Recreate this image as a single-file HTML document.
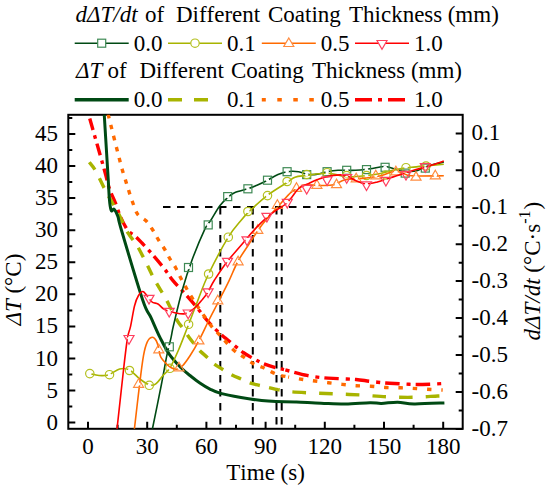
<!DOCTYPE html><html><head><meta charset="utf-8"><style>html,body{margin:0;padding:0;background:#fff;}svg{display:block;}text{font-family:"Liberation Serif",serif;fill:#000;white-space:pre;font-kerning:none;font-variant-ligatures:none;}</style></head><body>
<svg width="550" height="489" viewBox="0 0 550 489">
<defs><clipPath id="pc"><rect x="68.3" y="114.8" width="394.4" height="314.0"/></clipPath></defs>
<text x="75.5" y="21.7" font-size="23" font-style="italic">d&#916;T/dt</text>
<text x="145.1" y="21.7" font-size="23">of</text>
<text x="175.9" y="21.7" font-size="23">Different</text>
<text x="268.0" y="21.7" font-size="23">Coating</text>
<text x="349.0" y="21.7" font-size="23">Thickness</text>
<text x="447.7" y="21.7" font-size="23">(mm)</text>
<text x="76.1" y="77.7" font-size="23" font-style="italic">&#916;T</text>
<text x="107.5" y="77.7" font-size="23">of</text>
<text x="139.5" y="77.7" font-size="23">Different</text>
<text x="231.0" y="77.7" font-size="23">Coating</text>
<text x="312.0" y="77.7" font-size="23">Thickness</text>
<text x="410.9" y="77.7" font-size="23">(mm)</text>
<line x1="74.7" y1="43.2" x2="128.7" y2="43.2" stroke="#004a14" stroke-width="1.6"/>
<rect x="97.7" y="39.2" width="8" height="8" fill="#fff" stroke="#3f8a55" stroke-width="1.2"/>
<text x="133.7" y="51" font-size="23">0.0</text>
<line x1="74.7" y1="99.7" x2="128.7" y2="99.7" stroke="#004a14" stroke-width="3.4" />
<text x="133.7" y="107" font-size="23">0.0</text>
<line x1="168.0" y1="43.2" x2="222.0" y2="43.2" stroke="#a8b400" stroke-width="1.6"/>
<circle cx="195.0" cy="43.2" r="4.2" fill="#fff" stroke="#b4c020" stroke-width="1.2"/>
<text x="227.0" y="51" font-size="23">0.1</text>
<line x1="168.0" y1="99.7" x2="209.0" y2="99.7" stroke="#a8b400" stroke-width="3.4" stroke-dasharray="14 12"/>
<text x="227.0" y="107" font-size="23">0.1</text>
<line x1="261.8" y1="43.2" x2="315.8" y2="43.2" stroke="#ff6a00" stroke-width="1.6"/>
<path d="M288.8,38.0 L293.8,46.5 L283.8,46.5 Z" fill="#fff" stroke="#ff8c40" stroke-width="1.2"/>
<text x="320.8" y="51" font-size="23">0.5</text>
<line x1="261.8" y1="99.7" x2="315.8" y2="99.7" stroke="#ff6a00" stroke-width="3.4" stroke-dasharray="4.5 11.5" stroke-dashoffset="0.5"/>
<text x="320.8" y="107" font-size="23">0.5</text>
<line x1="355.0" y1="43.2" x2="409.0" y2="43.2" stroke="#ff0000" stroke-width="1.6"/>
<path d="M377.0,40.5 L387.0,40.5 L382.0,49.2 Z" fill="#fff" stroke="#ff4060" stroke-width="1.2"/>
<text x="414.0" y="51" font-size="23">1.0</text>
<line x1="355.0" y1="99.7" x2="409.0" y2="99.7" stroke="#ff0000" stroke-width="3.4" stroke-dasharray="17 6 4 6"/>
<text x="414.0" y="107" font-size="23">1.0</text>
<rect x="68.3" y="114.8" width="394.4" height="314.0" fill="none" stroke="#000" stroke-width="2"/>
<text x="88.0" y="454" font-size="23" text-anchor="middle">0</text>
<text x="147.2" y="454" font-size="23" text-anchor="middle">30</text>
<text x="206.4" y="454" font-size="23" text-anchor="middle">60</text>
<text x="265.6" y="454" font-size="23" text-anchor="middle">90</text>
<text x="324.8" y="454" font-size="23" text-anchor="middle">120</text>
<text x="384.0" y="454" font-size="23" text-anchor="middle">150</text>
<text x="443.2" y="454" font-size="23" text-anchor="middle">180</text>
<text x="58" y="429.6" font-size="23" text-anchor="end">0</text>
<text x="58" y="397.5" font-size="23" text-anchor="end">5</text>
<text x="58" y="365.5" font-size="23" text-anchor="end">10</text>
<text x="58" y="333.4" font-size="23" text-anchor="end">15</text>
<text x="58" y="301.3" font-size="23" text-anchor="end">20</text>
<text x="58" y="269.3" font-size="23" text-anchor="end">25</text>
<text x="58" y="237.2" font-size="23" text-anchor="end">30</text>
<text x="58" y="205.1" font-size="23" text-anchor="end">35</text>
<text x="58" y="173.1" font-size="23" text-anchor="end">40</text>
<text x="58" y="141.0" font-size="23" text-anchor="end">45</text>
<text x="471.5" y="140.4" font-size="23">0.1</text>
<text x="471.5" y="177.3" font-size="23">0.0</text>
<text x="471.5" y="214.2" font-size="23">-0.1</text>
<text x="471.5" y="251.2" font-size="23">-0.2</text>
<text x="471.5" y="288.1" font-size="23">-0.3</text>
<text x="471.5" y="325.1" font-size="23">-0.4</text>
<text x="471.5" y="362.0" font-size="23">-0.5</text>
<text x="471.5" y="398.9" font-size="23">-0.6</text>
<text x="471.5" y="435.9" font-size="23">-0.7</text>
<path d="M88.0,428.8V421.8 M147.2,428.8V421.8 M206.4,428.8V421.8 M265.6,428.8V421.8 M324.8,428.8V421.8 M384.0,428.8V421.8 M443.2,428.8V421.8 M117.6,428.8V424.8 M176.8,428.8V424.8 M236.0,428.8V424.8 M295.2,428.8V424.8 M354.4,428.8V424.8 M413.6,428.8V424.8 M68.3,422.6H75.3 M68.3,390.5H75.3 M68.3,358.5H75.3 M68.3,326.4H75.3 M68.3,294.3H75.3 M68.3,262.3H75.3 M68.3,230.2H75.3 M68.3,198.1H75.3 M68.3,166.1H75.3 M68.3,134.0H75.3 M68.3,406.6H72.3 M68.3,374.5H72.3 M68.3,342.4H72.3 M68.3,310.4H72.3 M68.3,278.3H72.3 M68.3,246.2H72.3 M68.3,214.2H72.3 M68.3,182.1H72.3 M68.3,150.0H72.3 M68.3,118.0H72.3 M462.7,133.4H455.7 M462.7,170.3H455.7 M462.7,207.2H455.7 M462.7,244.2H455.7 M462.7,281.1H455.7 M462.7,318.1H455.7 M462.7,355.0H455.7 M462.7,391.9H455.7 M462.7,428.9H455.7 M462.7,151.8H458.7 M462.7,188.8H458.7 M462.7,225.7H458.7 M462.7,262.7H458.7 M462.7,299.6H458.7 M462.7,336.5H458.7 M462.7,373.5H458.7 M462.7,410.4H458.7" stroke="#000" stroke-width="2" fill="none"/>
<text x="226.3" y="480" font-size="23">Time (s)</text>
<text transform="translate(21,325.6) rotate(-90)" font-size="23"><tspan font-style="italic">&#916;T</tspan> (&#176;C)</text>
<text transform="translate(540.2,340.5) rotate(-90)" font-size="23"><tspan font-style="italic">d&#916;T/dt</tspan> (&#176;C&#183;s<tspan font-size="16" dy="-10">-1</tspan><tspan dy="10" dx="1">)</tspan></text>
<g clip-path="url(#pc)">
<path d="M163,207 H463 M220.3,207 V429 M252.8,207 V429 M276.5,207 V429 M281.7,207 V429" stroke="#000" stroke-width="2" stroke-dasharray="7.5 6.5" fill="none"/>
<path d="M87.50,110.00 C87.83,111.28 86.68,107.70 89.50,117.70 C92.32,127.70 101.10,158.22 104.40,170.00 C107.70,181.78 107.45,182.90 109.30,188.40 C111.15,193.90 113.65,198.30 115.50,203.00 C117.35,207.70 118.65,212.48 120.40,216.60 C122.15,220.72 124.47,225.08 126.00,227.70 C127.53,230.32 128.18,231.00 129.60,232.30 C131.02,233.60 132.43,233.72 134.50,235.50 C136.57,237.28 139.13,239.98 142.00,243.00 C144.87,246.02 148.03,249.38 151.70,253.60 C155.37,257.82 160.45,263.80 164.00,268.30 C167.55,272.80 169.92,276.82 173.00,280.60 C176.08,284.38 178.67,286.70 182.50,291.00 C186.33,295.30 191.72,301.28 196.00,306.40 C200.28,311.52 204.12,317.10 208.20,321.70 C212.28,326.30 217.43,331.12 220.50,334.00 C223.57,336.88 224.52,337.28 226.60,339.00 C228.68,340.72 230.23,342.05 233.00,344.30 C235.77,346.55 239.80,350.12 243.20,352.50 C246.60,354.88 250.00,356.73 253.40,358.60 C256.80,360.47 259.85,362.17 263.60,363.70 C267.35,365.23 272.50,366.82 275.90,367.80 C279.30,368.78 278.82,368.33 284.00,369.60" stroke="#ff0000" stroke-width="3.4" fill="none" stroke-dasharray="12 5.5 3.5 4.9" stroke-dashoffset="16.92"/>
<path d="M284.00,369.60 C289.18,370.87 300.43,374.03 307.00,375.40 C313.57,376.77 318.23,377.27 323.40,377.80 C328.57,378.33 332.57,378.32 338.00,378.60 C343.43,378.88 350.67,379.05 356.00,379.50 C361.33,379.95 365.08,380.72 370.00,381.30 C374.92,381.88 380.60,382.60 385.50,383.00 C390.40,383.40 394.48,383.45 399.40,383.70 C404.32,383.95 409.82,384.42 415.00,384.50 C420.18,384.58 425.67,384.37 430.50,384.20 C435.33,384.03 441.75,383.62 444.00,383.50" stroke="#ff0000" stroke-width="3.4" fill="none" stroke-dasharray="14.5 7 4 5.05" stroke-dashoffset="19.89"/>
<path d="M107.00,108.00 C107.25,109.30 106.20,106.42 108.50,115.80 C110.80,125.18 118.10,154.03 120.80,164.30 C123.50,174.57 123.43,173.18 124.70,177.40 C125.97,181.62 127.07,185.42 128.40,189.60 C129.73,193.78 131.17,198.40 132.70,202.50 C134.23,206.60 135.38,211.15 137.60,214.20 C139.82,217.25 143.50,218.20 146.00,220.80 C148.50,223.40 150.55,226.67 152.60,229.80 C154.65,232.93 156.27,236.32 158.30,239.60 C160.33,242.88 162.90,246.35 164.80,249.50 C166.70,252.65 167.92,255.50 169.70,258.50 C171.48,261.50 173.72,264.37 175.50,267.50 C177.28,270.63 178.73,274.10 180.40,277.30 C182.07,280.50 183.62,283.38 185.50,286.70 C187.38,290.02 189.55,293.72 191.70,297.20 C193.85,300.68 195.13,302.80 198.40,307.60 C201.67,312.40 207.82,321.50 211.30,326.00 C214.78,330.50 215.68,330.70 219.30,334.60 C222.92,338.50 229.05,345.73 233.00,349.40 C236.95,353.07 239.60,354.22 243.00,356.60 C246.40,358.98 249.97,361.83 253.40,363.70 C256.83,365.57 259.85,366.08 263.60,367.80 C267.35,369.52 271.80,372.47 275.90,374.00 C280.00,375.53 283.68,376.08 288.20,377.00" stroke="#ff6a00" stroke-width="3.4" fill="none" stroke-dasharray="4.5 6.75" stroke-dashoffset="5.03"/>
<path d="M288.20,377.00 C292.72,377.92 298.53,378.83 303.00,379.50 C307.47,380.17 310.78,380.47 315.00,381.00 C319.22,381.53 323.77,382.13 328.30,382.70 C332.83,383.27 337.58,383.90 342.20,384.40 C346.82,384.90 351.25,385.40 356.00,385.70 C360.75,386.00 365.78,385.90 370.70,386.20 C375.62,386.50 380.45,387.23 385.50,387.50 C390.55,387.77 395.82,387.62 401.00,387.80 C406.18,387.98 411.55,388.32 416.60,388.60 C421.65,388.88 426.95,389.27 431.30,389.50 C435.65,389.73 440.80,389.92 442.70,390.00" stroke="#ff6a00" stroke-width="3.4" fill="none" stroke-dasharray="4.5 9.8" stroke-dashoffset="3.56"/>
<path d="M89.30,162.30 C90.37,163.75 93.08,166.45 95.70,171.00 C98.32,175.55 102.02,183.93 105.00,189.60 C107.98,195.27 111.35,201.00 113.60,205.00 C115.85,209.00 116.10,208.93 118.50,213.60 C120.90,218.27 124.92,227.70 128.00,233.00 C131.08,238.30 133.87,240.20 137.00,245.40 C140.13,250.60 143.80,258.33 146.80,264.20 C149.80,270.07 152.00,275.13 155.00,280.60 C158.00,286.07 162.08,292.22 164.80,297.00 C167.52,301.78 169.15,305.25 171.30,309.30 C173.45,313.35 175.70,318.07 177.70,321.30 C179.70,324.53 181.45,326.08 183.30,328.70 C185.15,331.32 186.82,334.25 188.80,337.00 C190.78,339.75 193.37,342.92 195.20,345.20 C197.03,347.48 197.67,348.57 199.80,350.70 C201.93,352.83 205.70,355.85 208.00,358.00 C210.30,360.15 211.27,361.77 213.60,363.60 C215.93,365.43 218.93,367.10 222.00,369.00 C225.07,370.90 228.83,373.33 232.00,375.00 C235.17,376.67 238.12,377.70 241.00,379.00 C243.88,380.30 246.38,381.77 249.30,382.80 C252.22,383.83 255.43,384.45 258.50,385.20 C261.57,385.95 264.45,386.55 267.70,387.30 C270.95,388.05 274.32,388.97 278.00,389.70" stroke="#a8b400" stroke-width="3.4" fill="none" stroke-dasharray="10.5 9.5" stroke-dashoffset="1.01"/>
<path d="M278.00,389.70 C281.68,390.43 284.42,391.17 289.80,391.70 C295.18,392.23 302.80,392.53 310.30,392.90 C317.80,393.27 326.35,393.55 334.80,393.90 C343.25,394.25 352.42,394.52 361.00,395.00 C369.58,395.48 377.72,396.42 386.30,396.80 C394.88,397.18 403.92,397.43 412.50,397.30 C421.08,397.17 432.55,396.22 437.80,396.00 C443.05,395.78 442.97,396.00 444.00,396.00" stroke="#a8b400" stroke-width="3.4" fill="none" stroke-dasharray="13.5 13.15" stroke-dashoffset="11.83"/>
<path d="M104.2,108.0 C104.2,109.0 103.6,103.0 104.2,114.0 C104.8,125.0 107.1,160.0 107.9,174.0 C108.8,188.0 108.8,192.1 109.3,198.2 C109.8,204.3 110.4,208.7 111.2,210.5 C112.0,212.3 113.1,208.3 114.2,209.3 C115.3,210.3 116.7,213.2 117.9,216.6 C119.1,220.0 117.3,216.1 121.4,230.0 C125.5,243.9 137.8,285.4 142.7,300.0 C147.6,314.6 148.1,311.3 151.0,317.6 C153.9,323.9 157.1,331.8 160.2,337.9 C163.3,344.0 166.0,349.5 169.4,354.4 C172.8,359.3 177.1,363.8 180.5,367.3 C183.9,370.8 186.7,372.9 190.0,375.5 C193.3,378.1 196.8,380.9 200.2,383.2 C203.6,385.5 207.0,387.6 210.4,389.3 C213.8,391.0 215.6,392.0 220.7,393.4 C225.8,394.8 234.2,396.3 241.0,397.5 C247.8,398.7 255.8,399.9 261.6,400.6 C267.4,401.3 270.1,401.4 275.9,401.6 C281.7,401.8 288.9,401.7 296.4,402.0 C303.9,402.3 312.8,402.9 321.0,403.2 C329.2,403.5 337.3,404.1 345.5,404.0 C353.7,403.9 364.0,402.8 370.0,402.7 C376.0,402.6 376.8,403.5 381.4,403.4 C386.0,403.3 392.3,402.1 397.7,402.2 C403.1,402.3 406.2,403.8 414.0,403.9 C421.8,404.0 439.3,403.1 444.4,402.9" stroke="#004a14" stroke-width="3" fill="none"/>
<mask id="mk0" maskUnits="userSpaceOnUse" x="0" y="0" width="550" height="489"><rect x="0" y="0" width="550" height="489" fill="#fff"/><circle cx="169.3" cy="346.8" r="1.8" fill="#000"/><circle cx="188.5" cy="267.5" r="1.8" fill="#000"/><circle cx="208.2" cy="224.9" r="1.8" fill="#000"/><circle cx="227.7" cy="196.6" r="1.8" fill="#000"/><circle cx="247.9" cy="188.8" r="1.8" fill="#000"/><circle cx="267.5" cy="180.2" r="1.8" fill="#000"/><circle cx="287.1" cy="171.7" r="1.8" fill="#000"/><circle cx="306.7" cy="174.6" r="1.8" fill="#000"/><circle cx="327.1" cy="171.7" r="1.8" fill="#000"/><circle cx="346.7" cy="170.3" r="1.8" fill="#000"/><circle cx="366.5" cy="169.6" r="1.8" fill="#000"/><circle cx="385.1" cy="167.3" r="1.8" fill="#000"/><circle cx="405.2" cy="173.1" r="1.8" fill="#000"/><circle cx="425.3" cy="168.1" r="1.8" fill="#000"/></mask>
<path d="M152.4,429.0 C153.9,421.7 158.9,397.2 161.3,385.0 C163.7,372.8 165.2,363.6 166.8,355.7 C168.4,347.8 170.0,342.4 171.1,337.3 C172.2,332.2 171.7,332.9 173.6,325.0 C175.5,317.1 179.2,300.9 182.3,290.0 C185.4,279.1 188.6,269.3 192.3,259.3 C196.0,249.3 201.4,236.4 204.5,229.8 C207.6,223.2 208.4,224.1 211.0,220.0 C213.6,215.9 217.2,209.2 220.0,205.5 C222.8,201.8 225.2,199.7 227.7,197.5 C230.2,195.3 231.6,193.9 235.0,192.5 C238.4,191.1 244.2,190.0 247.9,188.8 C251.6,187.6 253.7,186.6 257.0,185.2 C260.3,183.8 264.0,182.0 267.5,180.2 C271.0,178.4 274.7,175.9 278.0,174.5 C281.3,173.1 283.7,172.2 287.1,171.7 C290.6,171.2 295.4,171.3 298.7,171.7 C302.0,172.1 303.8,173.8 306.7,174.2 C309.6,174.6 312.8,174.8 316.2,174.4 C319.6,174.0 323.5,172.4 327.1,171.7 C330.7,171.0 333.3,170.5 338.0,170.3 C342.7,170.1 350.2,170.6 355.5,170.3 C360.8,170.1 365.1,169.4 370.0,168.8 C374.9,168.2 380.8,166.4 385.1,166.5 C389.4,166.6 392.5,168.5 395.9,169.3 C399.2,170.1 401.8,170.9 405.2,171.2 C408.6,171.5 412.4,171.8 416.0,171.0 C419.6,170.2 422.2,168.0 426.8,166.5 C431.4,165.0 441.0,162.7 443.8,161.9" stroke="#004a14" stroke-width="1.6" fill="none" mask="url(#mk0)"/>
<rect x="165.3" y="342.8" width="8" height="8" fill="none" stroke="#3f8a55" stroke-width="1.2"/>
<rect x="184.5" y="263.5" width="8" height="8" fill="none" stroke="#3f8a55" stroke-width="1.2"/>
<rect x="204.2" y="220.9" width="8" height="8" fill="none" stroke="#3f8a55" stroke-width="1.2"/>
<rect x="223.7" y="192.6" width="8" height="8" fill="none" stroke="#3f8a55" stroke-width="1.2"/>
<rect x="243.9" y="184.8" width="8" height="8" fill="none" stroke="#3f8a55" stroke-width="1.2"/>
<rect x="263.5" y="176.2" width="8" height="8" fill="none" stroke="#3f8a55" stroke-width="1.2"/>
<rect x="283.1" y="167.7" width="8" height="8" fill="none" stroke="#3f8a55" stroke-width="1.2"/>
<rect x="302.7" y="170.6" width="8" height="8" fill="none" stroke="#3f8a55" stroke-width="1.2"/>
<rect x="323.1" y="167.7" width="8" height="8" fill="none" stroke="#3f8a55" stroke-width="1.2"/>
<rect x="342.7" y="166.3" width="8" height="8" fill="none" stroke="#3f8a55" stroke-width="1.2"/>
<rect x="362.5" y="165.6" width="8" height="8" fill="none" stroke="#3f8a55" stroke-width="1.2"/>
<rect x="381.1" y="163.3" width="8" height="8" fill="none" stroke="#3f8a55" stroke-width="1.2"/>
<rect x="401.2" y="169.1" width="8" height="8" fill="none" stroke="#3f8a55" stroke-width="1.2"/>
<rect x="421.3" y="164.1" width="8" height="8" fill="none" stroke="#3f8a55" stroke-width="1.2"/>
<mask id="mk1" maskUnits="userSpaceOnUse" x="0" y="0" width="550" height="489"><rect x="0" y="0" width="550" height="489" fill="#fff"/><circle cx="89.8" cy="373.6" r="1.8" fill="#000"/><circle cx="109.5" cy="374.7" r="1.8" fill="#000"/><circle cx="129.5" cy="370.5" r="1.8" fill="#000"/><circle cx="149.3" cy="385.3" r="1.8" fill="#000"/><circle cx="169.9" cy="368.3" r="1.8" fill="#000"/><circle cx="188.6" cy="324.3" r="1.8" fill="#000"/><circle cx="208.6" cy="274.0" r="1.8" fill="#000"/><circle cx="228.3" cy="237.2" r="1.8" fill="#000"/><circle cx="247.9" cy="211.5" r="1.8" fill="#000"/><circle cx="267.5" cy="195.6" r="1.8" fill="#000"/><circle cx="287.1" cy="181.5" r="1.8" fill="#000"/><circle cx="306.7" cy="174.5" r="1.8" fill="#000"/><circle cx="327.1" cy="172.7" r="1.8" fill="#000"/><circle cx="346.5" cy="175.5" r="1.8" fill="#000"/><circle cx="366.5" cy="175.5" r="1.8" fill="#000"/><circle cx="385.9" cy="175.0" r="1.8" fill="#000"/><circle cx="406.0" cy="167.7" r="1.8" fill="#000"/><circle cx="426.0" cy="166.0" r="1.8" fill="#000"/></mask>
<path d="M89.8,373.6 C91.3,373.9 95.8,375.3 99.0,375.5 C102.2,375.7 105.6,375.8 109.0,374.7 C112.4,373.6 116.2,369.8 119.6,369.0 C123.0,368.2 126.1,368.3 129.5,370.0 C132.9,371.7 136.5,376.5 139.8,379.0 C143.2,381.5 146.9,384.2 149.6,385.0 C152.3,385.8 153.6,385.5 155.8,383.9 C158.0,382.3 160.7,378.1 163.0,375.5 C165.3,372.9 167.3,372.2 169.9,368.0 C172.5,363.8 175.4,357.2 178.5,350.0 C181.6,342.8 185.3,332.8 188.6,324.5 C191.8,316.2 194.7,308.4 198.0,300.0 C201.3,291.6 203.5,284.5 208.6,274.0 C213.7,263.5 222.8,246.2 228.3,237.2 C233.8,228.2 237.8,224.4 241.4,220.0 C245.0,215.6 245.7,214.8 250.0,210.7 C254.3,206.6 261.1,200.1 267.4,195.3 C273.7,190.5 283.2,185.0 287.8,182.0 C292.4,179.0 291.9,178.3 295.0,177.2 C298.1,176.1 301.3,176.1 306.7,175.4 C312.1,174.7 320.2,173.0 327.1,173.2 C334.0,173.4 341.7,176.4 348.0,176.8 C354.3,177.2 359.6,176.4 365.0,175.8 C370.4,175.2 375.4,174.5 380.5,173.5 C385.6,172.5 390.8,170.6 395.9,169.6 C401.0,168.6 406.2,167.9 411.4,167.3 C416.5,166.7 421.4,166.3 426.8,165.8 C432.2,165.3 441.0,164.5 443.8,164.2" stroke="#a8b400" stroke-width="1.6" fill="none" mask="url(#mk1)"/>
<circle cx="89.8" cy="373.6" r="4.2" fill="none" stroke="#b4c020" stroke-width="1.2"/>
<circle cx="109.5" cy="374.7" r="4.2" fill="none" stroke="#b4c020" stroke-width="1.2"/>
<circle cx="129.5" cy="370.5" r="4.2" fill="none" stroke="#b4c020" stroke-width="1.2"/>
<circle cx="149.3" cy="385.3" r="4.2" fill="none" stroke="#b4c020" stroke-width="1.2"/>
<circle cx="169.9" cy="368.3" r="4.2" fill="none" stroke="#b4c020" stroke-width="1.2"/>
<circle cx="188.6" cy="324.3" r="4.2" fill="none" stroke="#b4c020" stroke-width="1.2"/>
<circle cx="208.6" cy="274.0" r="4.2" fill="none" stroke="#b4c020" stroke-width="1.2"/>
<circle cx="228.3" cy="237.2" r="4.2" fill="none" stroke="#b4c020" stroke-width="1.2"/>
<circle cx="247.9" cy="211.5" r="4.2" fill="none" stroke="#b4c020" stroke-width="1.2"/>
<circle cx="267.5" cy="195.6" r="4.2" fill="none" stroke="#b4c020" stroke-width="1.2"/>
<circle cx="287.1" cy="181.5" r="4.2" fill="none" stroke="#b4c020" stroke-width="1.2"/>
<circle cx="306.7" cy="174.5" r="4.2" fill="none" stroke="#b4c020" stroke-width="1.2"/>
<circle cx="327.1" cy="172.7" r="4.2" fill="none" stroke="#b4c020" stroke-width="1.2"/>
<circle cx="346.5" cy="175.5" r="4.2" fill="none" stroke="#b4c020" stroke-width="1.2"/>
<circle cx="366.5" cy="175.5" r="4.2" fill="none" stroke="#b4c020" stroke-width="1.2"/>
<circle cx="385.9" cy="175.0" r="4.2" fill="none" stroke="#b4c020" stroke-width="1.2"/>
<circle cx="406.0" cy="167.7" r="4.2" fill="none" stroke="#b4c020" stroke-width="1.2"/>
<circle cx="426.0" cy="166.0" r="4.2" fill="none" stroke="#b4c020" stroke-width="1.2"/>
<mask id="mk2" maskUnits="userSpaceOnUse" x="0" y="0" width="550" height="489"><rect x="0" y="0" width="550" height="489" fill="#fff"/><circle cx="138.6" cy="384.0" r="1.8" fill="#000"/><circle cx="158.8" cy="349.5" r="1.8" fill="#000"/><circle cx="179.0" cy="367.5" r="1.8" fill="#000"/><circle cx="198.9" cy="340.6" r="1.8" fill="#000"/><circle cx="217.8" cy="300.5" r="1.8" fill="#000"/><circle cx="238.1" cy="261.5" r="1.8" fill="#000"/><circle cx="257.8" cy="230.0" r="1.8" fill="#000"/><circle cx="277.4" cy="205.0" r="1.8" fill="#000"/><circle cx="296.5" cy="188.0" r="1.8" fill="#000"/><circle cx="316.9" cy="185.0" r="1.8" fill="#000"/><circle cx="336.5" cy="184.3" r="1.8" fill="#000"/><circle cx="356.2" cy="178.5" r="1.8" fill="#000"/><circle cx="375.8" cy="175.5" r="1.8" fill="#000"/><circle cx="395.9" cy="171.5" r="1.8" fill="#000"/><circle cx="416.0" cy="176.8" r="1.8" fill="#000"/><circle cx="435.3" cy="175.5" r="1.8" fill="#000"/></mask>
<path d="M134.4,429.0 C135.3,421.3 138.3,394.9 139.8,382.7 C141.3,370.5 142.3,362.4 143.5,355.7 C144.7,348.9 145.8,345.3 147.2,342.2 C148.6,339.1 150.6,337.5 152.1,337.3 C153.6,337.1 155.3,339.1 156.4,341.0 C157.5,342.9 158.1,346.4 158.8,349.0 C159.5,351.6 159.4,354.3 160.7,356.9 C162.0,359.4 165.0,362.4 166.8,364.3 C168.6,366.2 170.1,367.2 171.7,368.0 C173.3,368.8 174.8,369.6 176.6,369.2 C178.4,368.8 180.6,367.8 182.8,365.5 C185.0,363.2 187.3,359.8 190.0,355.7 C192.7,351.6 195.7,346.6 198.9,340.6 C202.1,334.7 205.6,326.8 209.0,320.0 C212.4,313.2 216.0,306.6 219.3,300.0 C222.7,293.4 226.0,287.1 229.1,280.6 C232.2,274.1 234.8,267.0 238.1,261.0 C241.4,255.0 245.1,250.0 248.7,244.5 C252.3,239.0 256.1,232.9 259.7,228.0 C263.3,223.1 266.9,218.9 270.4,214.8 C273.9,210.7 277.3,207.2 280.7,203.5 C284.1,199.8 287.8,195.0 291.0,192.3 C294.2,189.6 297.8,188.4 300.0,187.2 C302.2,185.9 300.9,185.1 304.5,184.8 C308.1,184.5 316.4,185.5 321.3,185.5 C326.2,185.5 329.6,185.8 333.6,184.8 C337.6,183.8 340.1,180.8 345.3,179.7 C350.5,178.6 359.1,178.8 365.0,178.1 C370.9,177.4 375.6,177.0 380.5,175.8 C385.4,174.7 390.5,171.6 394.4,171.2 C398.2,170.8 400.8,172.7 403.6,173.5 C406.4,174.3 404.7,175.4 411.4,175.8 C418.1,176.2 438.4,175.8 443.8,175.8" stroke="#ff6a00" stroke-width="1.6" fill="none" mask="url(#mk2)"/>
<path d="M138.6,378.8 L143.6,387.3 L133.6,387.3 Z" fill="none" stroke="#ff8c40" stroke-width="1.2"/>
<path d="M158.8,344.3 L163.8,352.8 L153.8,352.8 Z" fill="none" stroke="#ff8c40" stroke-width="1.2"/>
<path d="M179.0,362.3 L184.0,370.8 L174.0,370.8 Z" fill="none" stroke="#ff8c40" stroke-width="1.2"/>
<path d="M198.9,335.4 L203.9,343.9 L193.9,343.9 Z" fill="none" stroke="#ff8c40" stroke-width="1.2"/>
<path d="M217.8,295.3 L222.8,303.8 L212.8,303.8 Z" fill="none" stroke="#ff8c40" stroke-width="1.2"/>
<path d="M238.1,256.3 L243.1,264.8 L233.1,264.8 Z" fill="none" stroke="#ff8c40" stroke-width="1.2"/>
<path d="M257.8,224.8 L262.8,233.3 L252.8,233.3 Z" fill="none" stroke="#ff8c40" stroke-width="1.2"/>
<path d="M277.4,199.8 L282.4,208.3 L272.4,208.3 Z" fill="none" stroke="#ff8c40" stroke-width="1.2"/>
<path d="M296.5,182.8 L301.5,191.3 L291.5,191.3 Z" fill="none" stroke="#ff8c40" stroke-width="1.2"/>
<path d="M316.9,179.8 L321.9,188.3 L311.9,188.3 Z" fill="none" stroke="#ff8c40" stroke-width="1.2"/>
<path d="M336.5,179.1 L341.5,187.6 L331.5,187.6 Z" fill="none" stroke="#ff8c40" stroke-width="1.2"/>
<path d="M356.2,173.3 L361.2,181.8 L351.2,181.8 Z" fill="none" stroke="#ff8c40" stroke-width="1.2"/>
<path d="M375.8,170.3 L380.8,178.8 L370.8,178.8 Z" fill="none" stroke="#ff8c40" stroke-width="1.2"/>
<path d="M395.9,166.3 L400.9,174.8 L390.9,174.8 Z" fill="none" stroke="#ff8c40" stroke-width="1.2"/>
<path d="M416.0,171.6 L421.0,180.1 L411.0,180.1 Z" fill="none" stroke="#ff8c40" stroke-width="1.2"/>
<path d="M435.3,170.3 L440.3,178.8 L430.3,178.8 Z" fill="none" stroke="#ff8c40" stroke-width="1.2"/>
<mask id="mk3" maskUnits="userSpaceOnUse" x="0" y="0" width="550" height="489"><rect x="0" y="0" width="550" height="489" fill="#fff"/><circle cx="129.0" cy="338.2" r="1.8" fill="#000"/><circle cx="149.0" cy="298.0" r="1.8" fill="#000"/><circle cx="169.2" cy="311.0" r="1.8" fill="#000"/><circle cx="188.2" cy="312.7" r="1.8" fill="#000"/><circle cx="208.1" cy="291.5" r="1.8" fill="#000"/><circle cx="227.5" cy="261.0" r="1.8" fill="#000"/><circle cx="247.0" cy="239.5" r="1.8" fill="#000"/><circle cx="266.9" cy="216.0" r="1.8" fill="#000"/><circle cx="287.3" cy="202.0" r="1.8" fill="#000"/><circle cx="306.7" cy="188.0" r="1.8" fill="#000"/><circle cx="327.1" cy="179.5" r="1.8" fill="#000"/><circle cx="346.7" cy="177.3" r="1.8" fill="#000"/><circle cx="366.5" cy="184.5" r="1.8" fill="#000"/><circle cx="385.9" cy="180.0" r="1.8" fill="#000"/><circle cx="406.0" cy="174.0" r="1.8" fill="#000"/><circle cx="425.3" cy="166.3" r="1.8" fill="#000"/></mask>
<path d="M117.0,429.0 C118.1,419.2 121.8,385.2 123.5,370.0 C125.2,354.8 126.3,345.2 127.5,338.0 C128.7,330.8 129.3,331.9 130.5,326.6 C131.7,321.3 133.2,311.2 134.5,306.0 C135.8,300.8 137.0,297.9 138.5,295.5 C140.0,293.1 141.2,290.7 143.4,291.7 C145.6,292.7 149.0,299.4 151.4,301.5 C153.8,303.6 155.8,302.7 158.0,304.0 C160.2,305.3 161.6,308.0 164.3,309.4 C167.0,310.8 170.6,311.8 174.0,312.5 C177.4,313.2 181.5,314.5 185.0,313.7 C188.5,312.9 192.3,309.9 195.2,307.5 C198.1,305.1 200.4,301.8 202.6,299.2 C204.8,296.6 206.1,295.0 208.1,291.8 C210.1,288.6 211.2,285.1 214.5,280.0 C217.8,274.9 222.2,268.0 227.7,261.0 C233.2,254.0 242.9,243.2 247.3,238.0 C251.7,232.8 251.1,233.2 254.1,230.0 C257.1,226.8 261.7,222.1 265.3,218.9 C268.9,215.7 272.2,213.2 275.6,210.7 C279.0,208.2 283.1,206.3 285.8,204.0 C288.5,201.7 289.9,199.6 292.0,197.0 C294.1,194.4 296.1,190.7 298.7,188.5 C301.3,186.3 304.1,185.6 307.5,184.0 C310.9,182.4 314.6,180.4 319.0,179.0 C323.4,177.6 329.2,176.0 333.6,175.4 C338.0,174.8 341.7,174.6 345.3,175.4 C348.9,176.2 352.1,179.1 355.5,180.5 C358.9,181.9 362.0,183.8 365.6,184.0 C369.2,184.2 373.4,183.0 377.4,182.0 C381.4,181.0 385.3,179.5 389.7,178.1 C394.1,176.7 399.2,174.9 403.6,173.5 C408.0,172.1 411.6,170.9 416.0,169.6 C420.4,168.3 425.4,167.2 430.0,165.8 C434.6,164.4 441.5,161.9 443.8,161.1" stroke="#ff0000" stroke-width="1.6" fill="none" mask="url(#mk3)"/>
<path d="M124.0,335.5 L134.0,335.5 L129.0,344.2 Z" fill="none" stroke="#ff4060" stroke-width="1.2"/>
<path d="M144.0,295.3 L154.0,295.3 L149.0,304.0 Z" fill="none" stroke="#ff4060" stroke-width="1.2"/>
<path d="M164.2,308.3 L174.2,308.3 L169.2,317.0 Z" fill="none" stroke="#ff4060" stroke-width="1.2"/>
<path d="M183.2,310.0 L193.2,310.0 L188.2,318.7 Z" fill="none" stroke="#ff4060" stroke-width="1.2"/>
<path d="M203.1,288.8 L213.1,288.8 L208.1,297.5 Z" fill="none" stroke="#ff4060" stroke-width="1.2"/>
<path d="M222.5,258.3 L232.5,258.3 L227.5,267.0 Z" fill="none" stroke="#ff4060" stroke-width="1.2"/>
<path d="M242.0,236.8 L252.0,236.8 L247.0,245.5 Z" fill="none" stroke="#ff4060" stroke-width="1.2"/>
<path d="M261.9,213.3 L271.9,213.3 L266.9,222.0 Z" fill="none" stroke="#ff4060" stroke-width="1.2"/>
<path d="M282.3,199.3 L292.3,199.3 L287.3,208.0 Z" fill="none" stroke="#ff4060" stroke-width="1.2"/>
<path d="M301.7,185.3 L311.7,185.3 L306.7,194.0 Z" fill="none" stroke="#ff4060" stroke-width="1.2"/>
<path d="M322.1,176.8 L332.1,176.8 L327.1,185.5 Z" fill="none" stroke="#ff4060" stroke-width="1.2"/>
<path d="M341.7,174.6 L351.7,174.6 L346.7,183.3 Z" fill="none" stroke="#ff4060" stroke-width="1.2"/>
<path d="M361.5,181.8 L371.5,181.8 L366.5,190.5 Z" fill="none" stroke="#ff4060" stroke-width="1.2"/>
<path d="M380.9,177.3 L390.9,177.3 L385.9,186.0 Z" fill="none" stroke="#ff4060" stroke-width="1.2"/>
<path d="M401.0,171.3 L411.0,171.3 L406.0,180.0 Z" fill="none" stroke="#ff4060" stroke-width="1.2"/>
<path d="M420.3,163.6 L430.3,163.6 L425.3,172.3 Z" fill="none" stroke="#ff4060" stroke-width="1.2"/>
</g>
</svg></body></html>
